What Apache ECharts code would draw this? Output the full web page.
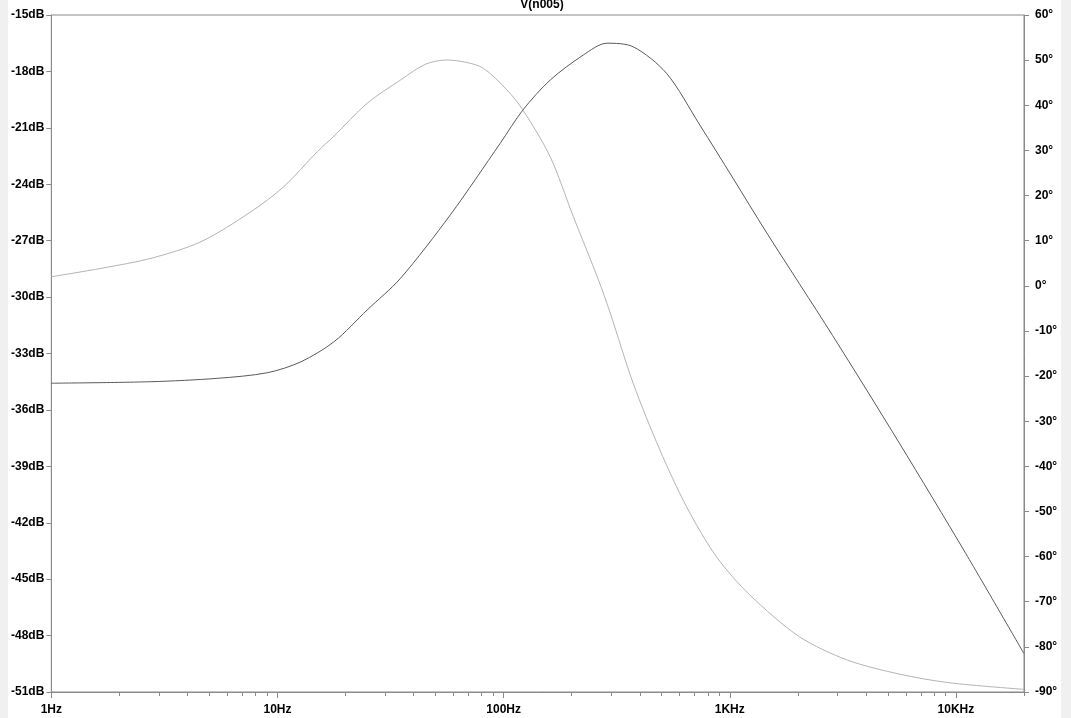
<!DOCTYPE html>
<html>
<head>
<meta charset="utf-8">
<script src="https://cdn.jsdelivr.net/npm/echarts@6/dist/echarts.min.js"></script>
<style>
html,body{margin:0;padding:0;background:#f0f0f0;width:1071px;height:718px;overflow:hidden;}
#chart{position:absolute;left:8px;top:0;width:1053px;height:718px;background:#ffffff;}
</style>
</head>
<body>
<div id="chart"></div>
<script>
// Magnitude V(n005) in dB (left axis)
var magFreq = [1, 2.76, 5.43, 9.04, 12.7, 17.8, 24.9, 35.0, 58.1, 96.6, 121.7, 160.6, 225, 286, 374, 525, 737, 1025, 1449, 2851, 5611, 11060, 20000];
var magDb   = [-34.58, -34.50, -34.32, -34.02, -33.44, -32.37, -30.69, -29.00, -25.63, -21.82, -20.05, -18.46, -17.13, -16.50, -16.69, -18.10, -20.85, -23.61, -26.54, -32.05, -37.75, -43.64, -48.96];
// Phase V(n005) in degrees (right axis)
var phFreq = [1, 1.66, 2.76, 4.59, 7.63, 10.66, 15.0, 17.8, 24.9, 35.0, 45.0, 56.1, 68.5, 81.5, 103.5, 121.7, 160.6, 203.4, 262, 295, 374, 491, 644, 873, 1225, 2034, 3311, 5611, 9330, 20000];
var phDeg  = [2.0, 3.87, 6.09, 9.77, 16.41, 21.95, 29.71, 33.19, 40.43, 45.60, 49.07, 50.03, 49.49, 48.19, 43.38, 38.95, 28.60, 15.31, 1.44, -5.81, -21.61, -36.39, -48.95, -60.03, -68.47, -77.76, -82.92, -86.02, -87.95, -89.41];
// Axis ticks
var xMajor = [1, 10, 100, 1000, 10000];
var xMajorLabels = ['1Hz', '10Hz', '100Hz', '1KHz', '10KHz'];
var xMinor = [];
[1, 10, 100, 1000, 10000].forEach(function (d) {
  for (var k = 1; k <= 9; k++) { if (d * k <= 20000) xMinor.push(d * k); }
});
xMinor.push(20000);

var magData = magFreq.map(function (f, i) { return [f, magDb[i]]; });
var phData = phFreq.map(function (f, i) { return [f, phDeg[i]]; });

var font = '"Liberation Sans", Arial, sans-serif';
var axisGray = '#8a8a8a';
var chart = echarts.init(document.getElementById('chart'), null, {renderer: 'canvas'});
chart.setOption({
  animation: false,
  backgroundColor: '#ffffff',
  title: {
    text: 'V(n005)', left: 529, top: -6, textAlign: 'center',
    textStyle: {fontFamily: font, fontSize: 12, fontWeight: 'bold', color: '#000'}
  },
  grid: {left: 42, right: 37, top: 15, bottom: 26, show: true, borderColor: axisGray, borderWidth: 1, backgroundColor: '#fff'},
  xAxis: [{
    type: 'log', logBase: 10, min: 1, max: 20000,
    axisLine: {show: true, onZero: false, lineStyle: {color: axisGray}},
    axisTick: {show: true, length: 4, lineStyle: {color: axisGray}, customValues: xMinor},
    axisLabel: {
      customValues: xMajor, fontFamily: font, fontSize: 12, fontWeight: 'bold', color: '#000', margin: 12,
      formatter: function (v) {
        var i = xMajor.indexOf(Math.round(v));
        return i >= 0 ? xMajorLabels[i] : '';
      }
    },
    splitLine: {show: false}, minorTick: {show: false}
  }, {
    type: 'log', logBase: 10, min: 1, max: 20000, position: 'bottom',
    axisLine: {show: false, onZero: false},
    axisTick: {show: true, length: 6, lineStyle: {color: axisGray}, customValues: xMajor},
    axisLabel: {show: false}, splitLine: {show: false}
  }],
  yAxis: [{
    type: 'value', min: -51, max: -15, interval: 3, position: 'left',
    axisLine: {show: true, onZero: false, lineStyle: {color: axisGray}},
    axisTick: {show: true, length: 5, lineStyle: {color: axisGray}},
    axisLabel: {fontFamily: font, fontSize: 12, fontWeight: 'bold', color: '#000', margin: 7,
      formatter: function (v) { return v + 'dB'; }},
    splitLine: {show: false}
  }, {
    type: 'value', min: -90, max: 60, interval: 10, position: 'right',
    axisLine: {show: true, onZero: false, lineStyle: {color: axisGray}},
    axisTick: {show: true, length: 5, lineStyle: {color: axisGray}},
    axisLabel: {fontFamily: font, fontSize: 12, fontWeight: 'bold', color: '#000', margin: 11,
      formatter: function (v) { return v + '°'; }},
    splitLine: {show: false}
  }],
  series: [{
    name: 'V(n005) magnitude', type: 'line', xAxisIndex: 0, yAxisIndex: 0,
    data: magData, showSymbol: false, smooth: 0.3,
    lineStyle: {color: '#5a5a5a', width: 1}
  }, {
    name: 'V(n005) phase', type: 'line', xAxisIndex: 0, yAxisIndex: 1,
    data: phData, showSymbol: false, smooth: 0.3,
    lineStyle: {color: '#b4b4b4', width: 1}
  }]
});
</script>
</body>
</html>
